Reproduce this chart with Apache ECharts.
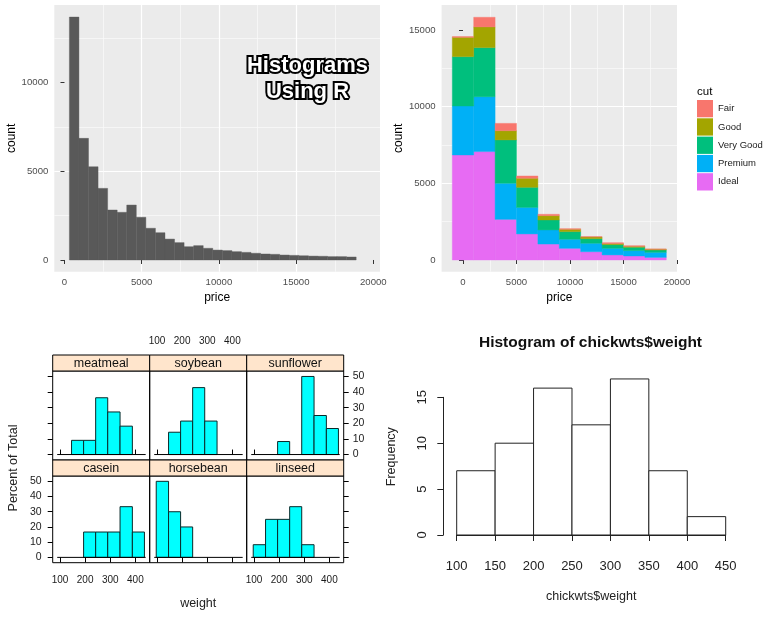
<!DOCTYPE html>
<html><head><meta charset="utf-8">
<script src="https://cdn.jsdelivr.net/npm/echarts@6/dist/echarts.min.js"></script>
<style>html,body{margin:0;padding:0;background:#fff}#c{width:768px;height:620px}</style>
</head><body><div id="c"></div>
<script>
// ---------------- DATA ----------------
// Panel 1: diamonds price histogram (30 bins)
const priceBinStart = 317;
const priceBinWidth = 619;
const priceCounts = [13700, 6860, 5260, 4040, 2820, 2690, 3100, 2410, 1790, 1540, 1180, 980, 750, 810, 660, 560, 530, 470, 430, 380, 340, 320, 280, 260, 240, 220, 210, 190, 190, 170];
const priceTicks = [0, 5000, 10000, 15000, 20000];
const countTicks1 = [0, 5000, 10000];

// Panel 2: price histogram stacked by cut (binwidth 2000)
const cutBinStart = -1000;
const cutBinWidth = 2000;
const cutNames = ['Fair', 'Good', 'Very Good', 'Premium', 'Ideal'];
const cutColors = ['#F8766D', '#A3A500', '#00BF7D', '#00B0F6', '#E76BF3'];
const fairCounts = [50, 630, 480, 150, 90, 40, 20, 60, 40, 20];
const goodCounts = [1260, 1350, 600, 590, 280, 150, 110, 70, 60, 50];
const veryGoodCounts = [3220, 3200, 2830, 1310, 650, 500, 300, 240, 220, 150];
const premiumCounts = [3190, 3580, 2350, 1730, 920, 590, 550, 430, 350, 330];
const idealCounts = [6850, 7070, 2650, 1700, 1040, 760, 540, 330, 260, 170];
const countTicks2 = [0, 5000, 10000, 15000];

// Panel 3: lattice histogram, percent of total per feed
const feeds = ['meatmeal', 'soybean', 'sunflower', 'casein', 'horsebean', 'linseed'];
const weightBreaks = [97, 146, 194, 242, 290, 339, 388, 436];
const meatmealPct = [0, 9.09, 9.09, 36.36, 27.27, 18.18, 0];
const soybeanPct = [0, 14.29, 21.43, 42.86, 21.43, 0, 0];
const sunflowerPct = [0, 0, 8.33, 0, 50, 25, 16.67];
const caseinPct = [0, 0, 16.67, 16.67, 16.67, 33.33, 16.67];
const horsebeanPct = [50, 30, 20, 0, 0, 0, 0];
const linseedPct = [8.33, 25, 25, 33.33, 8.33, 0, 0];
const latticeBaseline = [89, 441];
const latticeXTicks = [100, 200, 300, 400];
const latticeYTicks = [0, 10, 20, 30, 40, 50];

// Panel 4: base R histogram of chickwts$weight
const chickBreaks = [100, 150, 200, 250, 300, 350, 400, 450];
const chickFreq = [7, 10, 16, 12, 17, 7, 2];
const chickYTicks = [0, 5, 10, 15];

// ---------------- CHART ----------------
const F = "'Liberation Sans', Arial, sans-serif";
const chart = echarts.init(document.getElementById('c'), null, {width: 768, height: 620});
const plain = (v) => String(v);

const rectRender = (o) => (params, api) => {
  const tl = api.coord([api.value(0), api.value(3)]);
  const br = api.coord([api.value(1), api.value(2)]);
  const col = api.visual('color');
  return {type: 'rect',
    shape: {x: tl[0], y: tl[1], width: br[0] - tl[0], height: br[1] - tl[1]},
    style: {fill: o.fill || col, stroke: o.stroke || col, lineWidth: o.lw}};
};

const grids = [], xAxes = [], yAxes = [], series = [], graphics = [];

// ggplot-style axis helpers
function ggX(gi, min, max, ticks, name) {
  return {gridIndex: gi, type: 'value', min: min, max: max, minInterval: 5000, maxInterval: 5000,
    axisLine: {show: false},
    axisTick: {show: true, length: 4, customValues: ticks, lineStyle: {color: '#333', width: 1}},
    axisLabel: {customValues: ticks, formatter: plain, color: '#4D4D4D', fontSize: 9.6, margin: 6, fontFamily: F},
    splitLine: {show: true, showMinLine: false, showMaxLine: false, lineStyle: {color: '#fff', width: 1.2}},
    minorTick: {show: false, splitNumber: 2},
    minorSplitLine: {show: true, lineStyle: {color: '#fafafa', width: 0.7}},
    name: name, nameLocation: 'middle', nameGap: 20,
    nameTextStyle: {color: '#000', fontSize: 12, fontFamily: F}};
}
function ggY(gi, min, max, ticks, name) {
  const a = ggX(gi, min, max, ticks, name);
  a.nameGap = 36;
  return a;
}

// Panel 1
grids.push({left: 54.3, top: 5, width: 325.7, height: 266.7, show: true, backgroundColor: '#EBEBEB', borderWidth: 0, outerBoundsMode: 'none'});
xAxes.push(ggX(0, -660, 20430, priceTicks, 'price'));
yAxes.push(ggY(0, -660, 14382, countTicks1, 'count'));
series.push({type: 'custom', xAxisIndex: 0, yAxisIndex: 0, silent: true,
  itemStyle: {color: '#595959'},
  renderItem: rectRender({lw: 0.4}),
  encode: {x: [0, 1], y: [2, 3]},
  data: priceCounts.map((v, i) => [priceBinStart + i * priceBinWidth, priceBinStart + (i + 1) * priceBinWidth, 0, v])});

// Panel 2
grids.push({left: 441.6, top: 5, width: 235.4, height: 266.7, show: true, backgroundColor: '#EBEBEB', borderWidth: 0, outerBoundsMode: 'none'});
xAxes.push(ggX(1, -2000, 20000, priceTicks, 'price'));
yAxes.push(ggY(1, -763, 16630, countTicks2, 'count'));
const cutValues = [fairCounts, goodCounts, veryGoodCounts, premiumCounts, idealCounts];
const stackBase = fairCounts.map(() => 0);
for (let s = cutNames.length - 1; s >= 0; s--) {
  const vals = cutValues[s];
  const data = vals.map((v, i) => {
    const y0 = stackBase[i];
    stackBase[i] += v;
    return [cutBinStart + i * cutBinWidth, cutBinStart + (i + 1) * cutBinWidth, y0, y0 + v];
  });
  series.push({name: cutNames[s], type: 'custom', xAxisIndex: 1, yAxisIndex: 1, silent: true,
    itemStyle: {color: cutColors[s]}, renderItem: rectRender({lw: 0.4}),
    encode: {x: [0, 1], y: [2, 3]}, data: data});
}

// Panel 3: lattice
const LAT = {left: 52.7, colW: 97, stripH: 16, stripTop: [355, 460], panelTop: [371, 476], panelH: [89, 86.7]};
const feedPcts = [meatmealPct, soybeanPct, sunflowerPct, caseinPct, horsebeanPct, linseedPct];
feeds.forEach((feed, k) => {
  const r = k < 3 ? 0 : 1, c = k % 3, gi = grids.length;
  grids.push({left: LAT.left + c * LAT.colW, top: LAT.panelTop[r], width: LAT.colW, height: LAT.panelH[r],
    show: true, borderColor: '#000', borderWidth: 1, backgroundColor: 'transparent', outerBoundsMode: 'none'});
  const showXLab = (r === 0 && c === 1) || (r === 1 && c !== 1);
  xAxes.push({gridIndex: gi, type: 'value', min: 71, max: 457,
    position: r === 0 ? 'top' : 'bottom', offset: r === 0 ? LAT.stripH : 0,
    axisLine: {show: false},
    axisTick: {show: true, length: 5, customValues: latticeXTicks, lineStyle: {color: '#000', width: 1}},
    axisLabel: {show: showXLab, customValues: latticeXTicks, fontSize: 10, color: '#1a1a1a', margin: r === 0 ? 9 : 13, fontFamily: F},
    splitLine: {show: false},
    name: k === 4 ? 'weight' : '', nameLocation: 'middle', nameGap: 34,
    nameTextStyle: {color: '#222', fontSize: 12.5, fontFamily: F}});
  const showYLab = (c === 0 && r === 1) || (c === 2 && r === 0);
  yAxes.push({gridIndex: gi, type: 'value', min: -3.5, max: 53.5, show: c !== 1,
    position: c === 2 ? 'right' : 'left',
    axisLine: {show: false},
    axisTick: {show: true, length: 5, customValues: latticeYTicks, lineStyle: {color: '#000', width: 1}},
    axisLabel: {show: showYLab, customValues: latticeYTicks, fontSize: 10.5, color: '#1a1a1a', margin: c === 0 ? 11 : 9, fontFamily: F},
    splitLine: {show: false}});
  series.push({type: 'line', xAxisIndex: gi, yAxisIndex: gi, silent: true, symbol: 'none',
    lineStyle: {color: '#000', width: 1}, data: latticeBaseline.map(x => [x, 0])});
  const pct = feedPcts[k];
  const bars = [];
  pct.forEach((p, i) => { if (p > 0) bars.push([weightBreaks[i], weightBreaks[i + 1], 0, p]); });
  series.push({type: 'custom', xAxisIndex: gi, yAxisIndex: gi, silent: true,
    itemStyle: {color: '#00FFFF'}, renderItem: rectRender({fill: '#00FFFF', stroke: '#0a2a2a', lw: 1}),
    encode: {x: [0, 1], y: [2, 3]}, data: bars});
  graphics.push({type: 'rect', silent: true, z: 10,
    shape: {x: LAT.left + c * LAT.colW, y: LAT.stripTop[r], width: LAT.colW, height: LAT.stripH},
    style: {fill: '#FFE5CC', stroke: '#000', lineWidth: 1}});
  graphics.push({type: 'text', silent: true, z: 11,
    x: LAT.left + c * LAT.colW + LAT.colW / 2, y: LAT.stripTop[r] + LAT.stripH / 2 + 0.5,
    style: {text: feed, font: '12.5px ' + F, fill: '#111', align: 'center', verticalAlign: 'middle'}});
});
graphics.push({type: 'text', silent: true, x: 13.3, y: 468, rotation: Math.PI / 2,
  style: {text: 'Percent of Total', font: '12.5px ' + F, fill: '#222', align: 'center', verticalAlign: 'middle'}});

// Panel 4: base R
const g4 = grids.length;
grids.push({left: 456.7, top: 397.3, width: 269, height: 137.7, show: false, outerBoundsMode: 'none'});
xAxes.push({gridIndex: g4, type: 'value', min: 100, max: 450, interval: 50, offset: 5.7,
  axisLine: {show: true, lineStyle: {color: '#222', width: 1}},
  axisTick: {show: true, length: 6, lineStyle: {color: '#222', width: 1}},
  axisLabel: {fontSize: 13, color: '#222', margin: 19, fontFamily: F},
  splitLine: {show: false},
  name: 'chickwts$weight', nameLocation: 'middle', nameGap: 49,
  nameTextStyle: {color: '#222', fontSize: 12.5, fontFamily: F}});
yAxes.push({gridIndex: g4, type: 'value', min: 0, max: 15, interval: 5, offset: 13.4,
  axisLine: {show: true, lineStyle: {color: '#222', width: 1}},
  axisTick: {show: true, length: 6, lineStyle: {color: '#222', width: 1}},
  axisLabel: {fontSize: 13, color: '#222', margin: 14, rotate: 90, fontFamily: F},
  splitLine: {show: false}});
series.push({type: 'custom', xAxisIndex: g4, yAxisIndex: g4, silent: true, clip: false,
  itemStyle: {color: '#ffffff'}, renderItem: rectRender({fill: '#fff', stroke: '#222', lw: 1}),
  encode: {x: [0, 1], y: [2, 3]},
  data: chickFreq.map((f, i) => [chickBreaks[i], chickBreaks[i + 1], 0, f])});
graphics.push({type: 'text', silent: true, x: 590.5, y: 343,
  style: {text: 'Histogram of chickwts$weight', font: 'bold 15.5px ' + F, fill: '#111', align: 'center', verticalAlign: 'middle'}});
graphics.push({type: 'text', silent: true, x: 391.7, y: 456.7, rotation: Math.PI / 2,
  style: {text: 'Frequency', font: '12.5px ' + F, fill: '#222', align: 'center', verticalAlign: 'middle'}});

// Overlay + legend title
graphics.push({type: 'text', silent: true, z: 20, x: 307.5, y: 78.5,
  style: {text: 'Histograms\nUsing R', font: 'bold 22px ' + F, lineHeight: 26, fill: '#fff',
    stroke: '#000', lineWidth: 4, align: 'center', verticalAlign: 'middle',
    shadowColor: 'rgba(0,0,0,0.85)', shadowBlur: 6, shadowOffsetX: 1, shadowOffsetY: 2}});
graphics.push({type: 'text', silent: true, x: 697, y: 92,
  style: {text: 'cut', font: '11.5px ' + F, fill: '#000', align: 'left', verticalAlign: 'middle'}});

chart.setOption({
  animation: false,
  backgroundColor: '#fff',
  textStyle: {fontFamily: F},
  grid: grids, xAxis: xAxes, yAxis: yAxes, series: series,
  legend: {data: cutNames, orient: 'vertical', left: 697, top: 100, padding: 0,
    itemWidth: 16, itemHeight: 17.3, itemGap: 1, icon: 'rect', selectedMode: false,
    textStyle: {fontSize: 9.5, color: '#1a1a1a', fontFamily: F}},
  graphic: graphics
});
</script>
</body></html>
